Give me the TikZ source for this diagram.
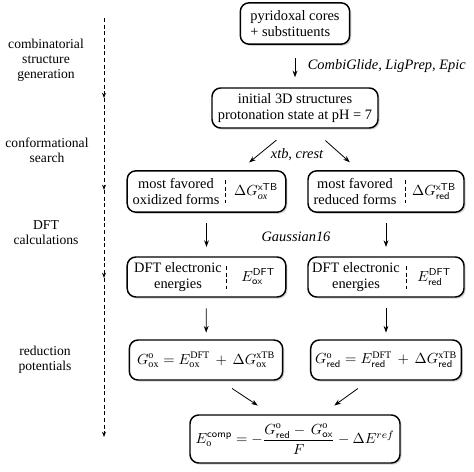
\documentclass[tikz,border=0pt]{standalone}
\usepackage{amsmath}
\usepackage{fontspec}
\setmainfont{Liberation Serif}
\usetikzlibrary{arrows.meta,shadows}

\begin{document}
\begin{tikzpicture}[
x=0.75pt, y=-0.75pt,
box/.style={draw, fill=white, rounded corners=6.5pt, line width=1.1pt, align=center, inner sep=2pt, font=\fontsize{10.8}{12.6}\selectfont, drop shadow={shadow xshift=1.2pt, shadow yshift=-1.2pt, opacity=0.35}},
part/.style={align=center, inner sep=1pt, font=\fontsize{10.8}{12.6}\selectfont},
stage/.style={align=center, font=\fontsize{10.2}{11.4}\selectfont},
tool/.style={font=\fontsize{10.8}{12.6}\selectfont\itshape},
divider/.style={densely dashed, line width=0.7pt},
arrow/.style={-{Stealth[length=5pt, width=3.6pt]}, line width=0.6pt},
timeline/.style={densely dashed, line width=0.6pt, -{Stealth[length=4pt, width=3pt]}}
]
\useasboundingbox (0,0) rectangle (474,471);

% stages on the left
\node[stage] (st1) at (46,60) {combinatorial\\structure\\generation};
\node[stage] (st2) at (47,150) {conformational\\search};
\node[stage] (st3) at (46,233) {DFT\\calculations};
\node[stage] (st4) at (45,360) {reduction\\potentials};
\coordinate (t0) at (104,18);
\coordinate (t1) at (104,98);
\coordinate (t2) at (104,190);
\coordinate (t3) at (104,278);
\coordinate (t4) at (104,437);
\draw[timeline] (t0) -- (t1);
\draw[timeline] (t1) -- (t2);
\draw[timeline] (t2) -- (t3);
\draw[timeline] (t3) -- (t4);

% main flow
\node[box, align=left, minimum width=82pt, minimum height=31pt] (b1) at (295,23.5) {pyridoxal cores\\+ substituents};
\node[box, minimum width=124.5pt, minimum height=30pt] (b2) at (295,108) {initial 3D structures\\protonation state at pH = 7};

\node[box, minimum width=119pt, minimum height=31pt] (ox1) at (206.5,191.5) {};
\node[part] (ox1t) at (176,191.5) {most favored\\oxidized forms};
\node[part] (ox1m) at (256,191.5) {$\Delta G^{\mathsf{xTB}}_{\mathit{ox}}$};
\draw[divider] (225,180) -- (225,203);

\node[box, minimum width=117pt, minimum height=31pt] (red1) at (386,191.5) {};
\node[part] (red1t) at (355,191.5) {most favored\\reduced forms};
\node[part] (red1m) at (434,191.5) {$\Delta G^{\mathsf{xTB}}_{\mathsf{red}}$};
\draw[divider] (405,180) -- (405,203);

\node[box, minimum width=119pt, minimum height=30pt] (ox2) at (206.5,277) {};
\node[part] (ox2t) at (178,277) {DFT electronic\\energies};
\node[part] (ox2m) at (258,277) {$E^{\mathsf{DFT}}_{\mathsf{ox}}$};
\draw[divider] (226,266) -- (226,289);

\node[box, minimum width=117pt, minimum height=30pt] (red2) at (386,277) {};
\node[part] (red2t) at (356,277) {DFT electronic\\energies};
\node[part] (red2m) at (434,277) {$E^{\mathsf{DFT}}_{\mathsf{red}}$};
\draw[divider] (406,266) -- (406,289);

\node[box, minimum width=115pt, minimum height=30pt] (ox3) at (206,360) {$G^{\mathrm{o}}_{\mathrm{ox}} = E^{\mathrm{DFT}}_{\mathrm{ox}} \,+\, \Delta G^{\mathrm{xTB}}_{\mathrm{ox}}$};
\node[box, minimum width=113pt, minimum height=30pt] (red3) at (386,360) {$G^{\mathrm{o}}_{\mathsf{red}} = E^{\mathrm{DFT}}_{\mathsf{red}} \,+\, \Delta G^{\mathrm{xTB}}_{\mathsf{red}}$};

\node[box, minimum width=157.5pt, minimum height=36pt] (b6) at (295,439) {$E^{\mathsf{comp}}_{\mathrm{o}} = -\dfrac{G^{\mathrm{o}}_{\mathsf{red}} -\, G^{\mathrm{o}}_{\mathsf{ox}}}{F} - \Delta E^{ref}$};

% tools
\node[tool] (tl2) at (297,155) {xtb, crest};
\node[tool] (tl3) at (296,237) {Gaussian16};

% arrows
\draw[arrow, shorten <=10pt, shorten >=7.5pt] (b1) -- node[tool, right, xshift=6pt] {CombiGlide, LigPrep, Epic} (b2);
\draw[arrow, shorten <=13.5pt, shorten >=9pt] ([xshift=-3.5pt]b2.south) -- ([xshift=25pt]ox1.north);
\draw[arrow, shorten <=13.3pt, shorten >=8.9pt] ([xshift=12.8pt]b2.south) -- ([xshift=-20.5pt]red1.north);
\draw[arrow, shorten <=7.5pt, shorten >=7pt] (ox1) -- (ox2);
\draw[arrow, shorten <=7.5pt, shorten >=7pt] (red1) -- (red2);
\draw[arrow, shorten <=8pt, shorten >=5pt] (ox2) -- (ox3);
\draw[arrow, shorten <=8pt, shorten >=5pt] (red2) -- (red3);
\draw[arrow, shorten <=10.5pt, shorten >=11.9pt] ([xshift=10.8pt]ox3.south) -- ([xshift=-18pt]b6.north);
\draw[arrow, shorten <=10pt, shorten >=11.3pt] ([xshift=-13pt]red3.south) -- ([xshift=20.3pt]b6.north);
\end{tikzpicture}
\end{document}
